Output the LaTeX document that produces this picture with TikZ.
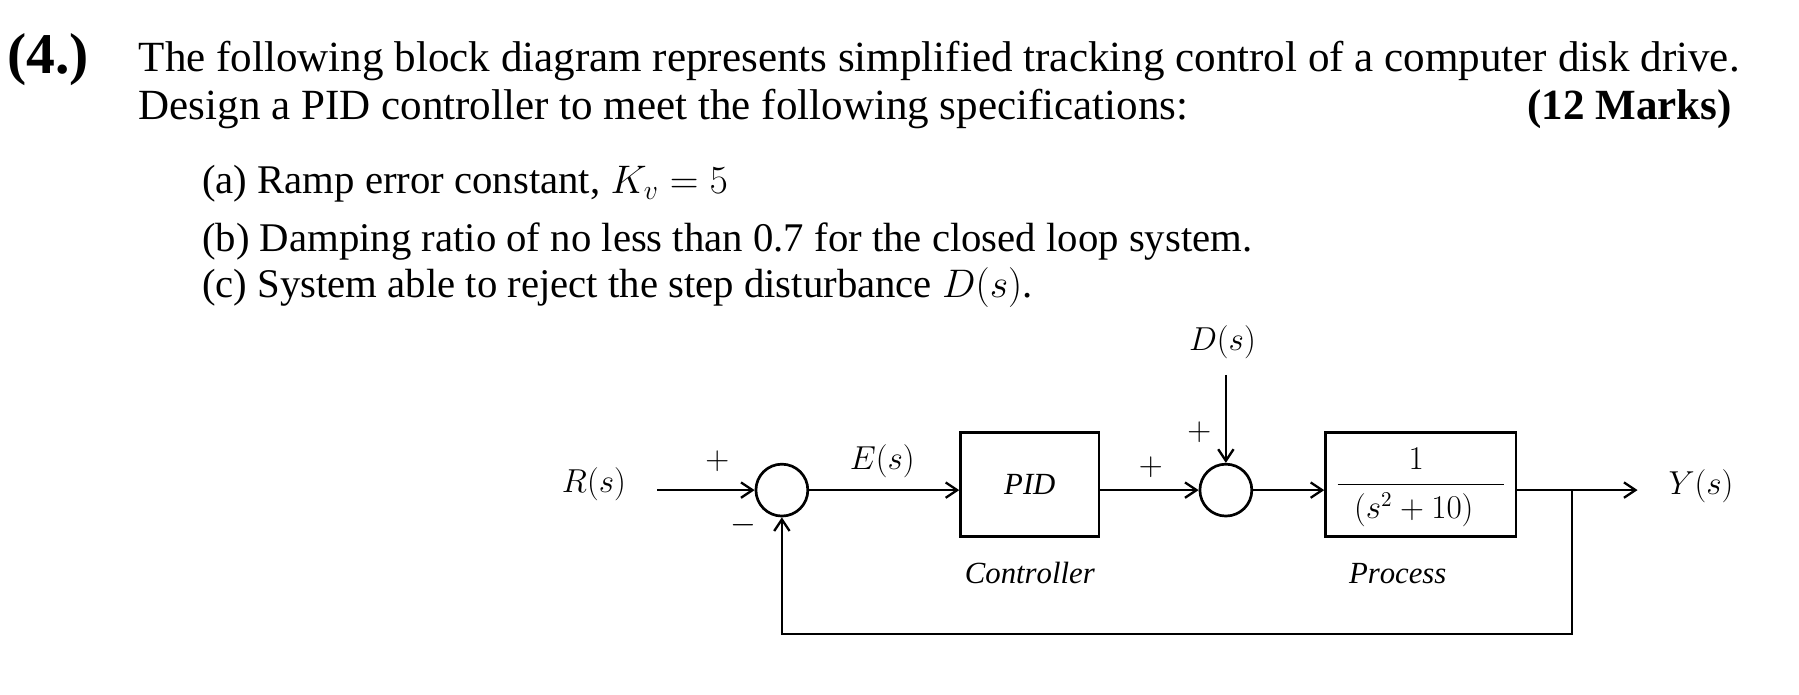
\documentclass[tikz,border=0pt]{standalone}
\usepackage{fontspec}
\setmainfont{Liberation Serif}
\usetikzlibrary{arrows.meta}
\begin{document}
\begin{tikzpicture}[x=0.6pt,y=-0.6pt,
  txt/.style={anchor=base west,inner sep=0pt,font=\fontsize{22.4}{24}\selectfont},
  itm/.style={anchor=base west,inner sep=0pt,font=\fontsize{21.2}{24}\selectfont},
  lbl/.style={inner sep=0pt,font=\fontsize{16}{18}\selectfont},
  blk/.style={draw,line width=1.4pt,minimum width=72pt,minimum height=54pt,inner sep=0pt},
  sumc/.style={draw,circle,line width=1.4pt,minimum size=27pt,inner sep=0pt},
  sig/.style={line width=1.2pt,-{Straight Barb[length=6pt,width=8pt]}},
  ln/.style={line width=1.2pt}]
\useasboundingbox (0,0) rectangle (1560,602);
\node[txt,font=\fontsize{30}{32}\selectfont\bfseries] (q) at (6,64) {(4.)};
\node[txt] (l1) at (120,62) {The following block diagram represents simplified tracking control of a computer disk drive.};
\node[txt] (l2) at (120,104) {Design a PID controller to meet the following specifications:};
\node[txt,anchor=base east,font=\fontsize{22.4}{24}\selectfont\bfseries] (mk) at (1502,104) {(12 Marks)};
\node[itm] (a) at (175,168) {(a) Ramp error constant, $K_v=5$};
\node[itm] (b) at (175,218) {(b) Damping ratio of no less than 0.7 for the closed loop system.};
\node[itm] (c) at (175,258) {(c) System able to reject the step disturbance $D(s)$.};
% diagram
\node[sumc] (s1) at (678,425) {};
\node[blk,minimum width=72pt] (pid) at (893,420) {\fontsize{16}{18}\selectfont$\mathit{PID}$};
\node[sumc] (s2) at (1063,425) {};
\node[blk,minimum width=99pt] (proc) at (1232,420) {};
\node[lbl] (num) at (1228,398) {$1$};
\node[lbl] (den) at (1226,442) {$(s^2+10)$};
\draw[line width=0.8pt] (1160,420) -- (1304,420);
\node[lbl] (R) at (515,420) {$R(s)$};
\node[lbl] (Y) at (1475,422) {$Y(s)$};
\node[lbl] (D) at (1060,297) {$D(s)$};
\node[lbl] (E) at (765,400) {$E(s)$};
\node[lbl] at (622,400) {$+$};
\node[lbl] at (645,455) {$-$};
\node[lbl] at (998,405) {$+$};
\node[lbl] at (1040,375) {$+$};
\node[lbl] (ctl) at (893,497) {$\mathit{Controller}$};
\node[lbl] (prc) at (1212,497) {$\mathit{Process}$};
\coordinate (rin) at (570,425);
\coordinate (br) at (1363,425);
\coordinate (yout) at (1420,425);
\coordinate (dtop) at (1063,325);
\draw[sig] (rin) -- (s1.west);
\draw[sig] (s1.east) -- (pid.west |- s1.east);
\draw[sig] (pid.east |- s2.west) -- (s2.west);
\draw[sig] (s2.east) -- (proc.west |- s2.east);
\draw[sig] (proc.east |- br) -- (yout);
\draw[sig] (dtop) -- (s2.north);
\draw[sig] (br) -- (1363,550) -- (678,550) -- (s1.south);
\end{tikzpicture}
\end{document}
